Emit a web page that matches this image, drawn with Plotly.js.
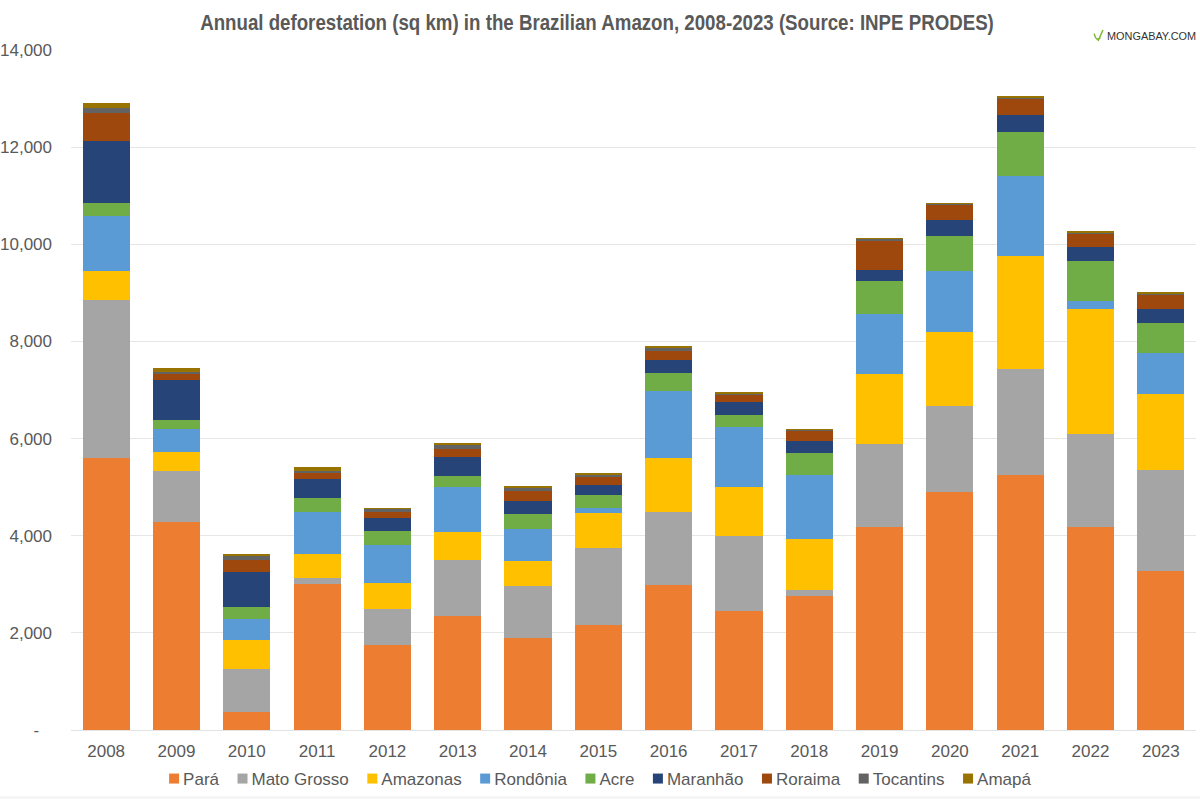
<!DOCTYPE html>
<html>
<head>
<meta charset="utf-8">
<script src="https://cdn.plot.ly/plotly-3.0.1.min.js"></script>
<style>html,body{margin:0;padding:0;background:#fff}</style>
</head>
<body>
<div id="chart" style="width:1200px;height:800px"></div>
<script>
const years = ['2008','2009','2010','2011','2012','2013','2014','2015','2016','2017','2018','2019','2020','2021','2022','2023'];
const para       = [5600,4280,370,3000,1750,2345,1890,2160,2995,2440,2750,4170,4910,5240,4170,3270];
const matoGrosso = [3260,1050,880,120,740,1145,1070,1595,1485,1555,140,1710,1770,2200,1930,2080];
const amazonas   = [600,400,600,500,530,580,510,715,1125,1000,1050,1440,1520,2310,2575,1560];
const rondonia   = [1130,475,430,860,780,930,675,95,1380,1240,1310,1235,1255,1665,150,860];
const acre       = [260,175,250,290,300,220,310,265,370,245,445,695,710,895,835,610];
const maranhao   = [1280,825,720,395,265,400,260,215,260,275,260,230,340,350,275,290];
const roraima    = [570,135,260,135,120,170,205,155,190,155,210,590,310,340,290,305];
const tocantins  = [110,40,80,40,65,80,70,65,70,20,15,40,20,20,20,15];
const amapa      = [100,80,20,70,20,20,25,20,20,20,15,10,15,15,15,15];
const seriesNames = ['Pará','Mato Grosso','Amazonas','Rondônia','Acre','Maranhão','Roraima','Tocantins','Amapá'];
const seriesValues = [para,matoGrosso,amazonas,rondonia,acre,maranhao,roraima,tocantins,amapa];
const seriesColors = ['#ED7D31','#A5A5A5','#FFC000','#5B9BD5','#70AD47','#264478','#9E480E','#636363','#997300'];
const yTickVals = [0,2000,4000,6000,8000,10000,12000,14000];
const yTickText = ['-\u00a0\u00a0\u2009','2,000','4,000','6,000','8,000','10,000','12,000','14,000'];

const traces = seriesNames.map((n,i)=>({
  type:'bar', name:n, x:years, y:seriesValues[i],
  marker:{color:seriesColors[i], line:{width:0}}, hoverinfo:'x+y+name'
}));
const textCol = '#595959';
const layout = {
  width:1200, height:800, barmode:'stack', bargap:0.33,
  paper_bgcolor:'#fff', plot_bgcolor:'#fff',
  margin:{l:71,r:4,t:50,b:69},
  font:{family:'"Liberation Sans", Arial, sans-serif', color:textCol, size:17},
  title:{text:'Annual deforestation (sq km) in the Brazilian Amazon, 2008-2023 (Source: INPE PRODES)',
    font:{family:'"Liberation Sans", sans-serif', size:22, color:textCol, weight:'bold'},
    x:0.4975, xanchor:'center', y:0.972, yanchor:'middle'},
  xaxis:{type:'category', categoryorder:'array', categoryarray:years, tickfont:{size:17,color:textCol},
    showgrid:false, showline:true, linecolor:'#e3e3e3', linewidth:1, ticks:'', ticklabelstandoff:6, fixedrange:true},
  yaxis:{range:[0,14000], tickvals:yTickVals, ticktext:yTickText, tickfont:{size:17,color:textCol},
    showgrid:true, gridcolor:'#e6e6e6', gridwidth:1, zeroline:false, showline:false, ticks:'', ticklabelstandoff:18, fixedrange:true},
  legend:{orientation:'h', x:0.5, xanchor:'center', y:-0.0705, yanchor:'middle', traceorder:'normal',
    font:{size:17,color:textCol}, itemclick:false, itemdoubleclick:false, bgcolor:'rgba(0,0,0,0)'},
  annotations:[{xref:'paper',yref:'paper',x:1.002,y:1.0205,xanchor:'right',yanchor:'middle',showarrow:false,
    text:'MONGABAY.COM',font:{size:10.9,color:'#333333',family:'"Liberation Sans", sans-serif'}}],
  shapes:[
    {type:'path',xref:'paper',yref:'paper',line:{color:'#7cb82f',width:1.5},fillcolor:'rgba(0,0,0,0)',
     path:'M 0.9173 1.0294 Q 0.9150 1.0210 0.9129 1.0132 M 0.9150 1.0180 Q 0.9110 1.0120 0.9095 1.0240'},
    {type:'rect',xref:'paper',yref:'paper',x0:-0.0632,x1:1.0036,y0:-0.1013,y1:-0.0969,line:{width:0},fillcolor:'#f6f6f6',layer:'below'}
  ]
};
Plotly.newPlot('chart',traces,layout,{displayModeBar:false,responsive:false}).then(()=>{
  // title drawn condensed, as in the reference
  const t = document.querySelector('.gtitle');
  if (t) {
    const sx = 794 / t.getComputedTextLength();
    const cx = parseFloat(t.getAttribute('x'));
    const prev = t.getAttribute('transform') || '';
    t.setAttribute('transform', prev + ' translate('+cx+',0) scale('+sx+',1) translate('+(-cx)+',0)');
  }
  // tighter legend entries: small swatch, short gap to text, centred row
  const items = Array.from(document.querySelectorAll('.legend .traces'));
  const swatch = 10, gapText = 4, gapItem = 18.5;
  let total = 0;
  const widths = items.map(g=>g.querySelector('.legendtext').getComputedTextLength());
  widths.forEach(w=>{ total += swatch+gapText+w; });
  total += gapItem*(items.length-1);
  let cursor = 600 - total/2;
  items.forEach((g,i)=>{
    const p = g.querySelector('.legendpoints path');
    const txt = g.querySelector('.legendtext');
    p.setAttribute('d','M5,5H-5V-5H5Z');
    const m = /translate\(([-\d.]+)[ ,]*([-\d.]*)\)/.exec(g.getAttribute('transform')||'');
    const tx = m?parseFloat(m[1]):0, ty = m&&m[2]?parseFloat(m[2]):0;
    const left = p.getBoundingClientRect().left;
    g.setAttribute('transform','translate('+(tx+cursor-left)+','+ty+')');
    const tl0 = txt.getBoundingClientRect().left;
    const tx0 = parseFloat(txt.getAttribute('x')||'0');
    txt.setAttribute('x', tx0 + (cursor+swatch+gapText) - tl0);
    cursor += swatch+gapText+widths[i]+gapItem;
  });
});
</script>
</body>
</html>
